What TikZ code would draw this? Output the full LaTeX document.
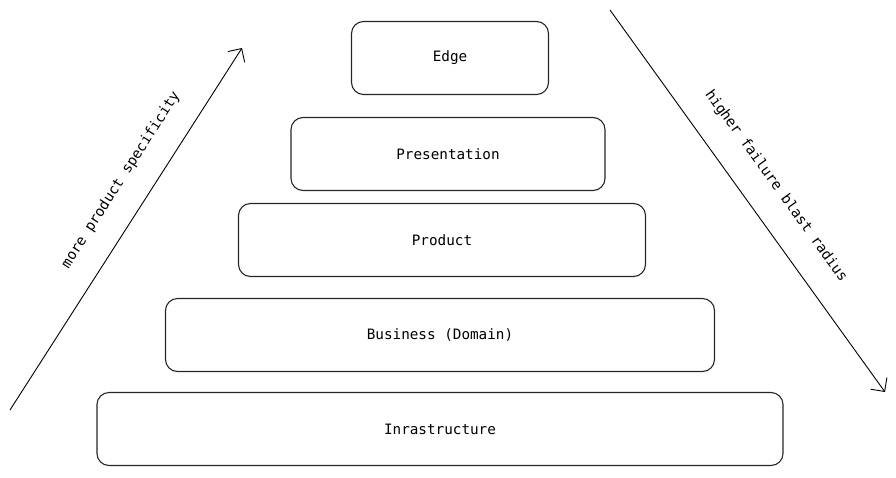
\documentclass[tikz,border=0pt]{standalone}
\usepackage{fontspec}
\setmonofont{DejaVu Sans Mono}
\usetikzlibrary{arrows.meta}
\tikzstyle{layer} = [rectangle, draw=black!85, line width=1.1pt, rounded corners=12pt, minimum height=73pt, font=\ttfamily\fontsize{14.3}{17}\selectfont]
\tikzstyle{axislabel} = [font=\ttfamily\fontsize{14.3}{17}\selectfont]
\tikzstyle{arrow} = [line width=0.9pt, -{Straight Barb[length=10pt,width=20pt]}]

\begin{document}
\begin{tikzpicture}[x=1pt, y=-1pt]
\useasboundingbox (0,0) rectangle (896,477);

\node (edge)	[layer, minimum width=197pt] at (450,58)	{Edge};
\node (pres)	[layer, minimum width=314pt] at (448,154)	{Presentation};
\node (prod)	[layer, minimum width=407pt] at (442,240)	{Product};
\node (bus)	[layer, minimum width=549pt] at (440,335)	{Business (Domain)};
\node (infra)	[layer, minimum width=686pt] at (440,429)	{Inrastructure};

\coordinate (lstart) at (10,410);
\coordinate (lend) at (242,48);
\coordinate (rstart) at (610,10);
\coordinate (rend) at (885,392);

\draw [arrow] (lstart) -- (lend);
\draw [arrow] (rstart) -- (rend);

\node (more)	[axislabel, rotate=57.3] at (121,180)	{more product specificity};
\node (blast)	[axislabel, rotate=-54.2] at (776,186)	{higher failure blast radius};

\end{tikzpicture}
\end{document}
